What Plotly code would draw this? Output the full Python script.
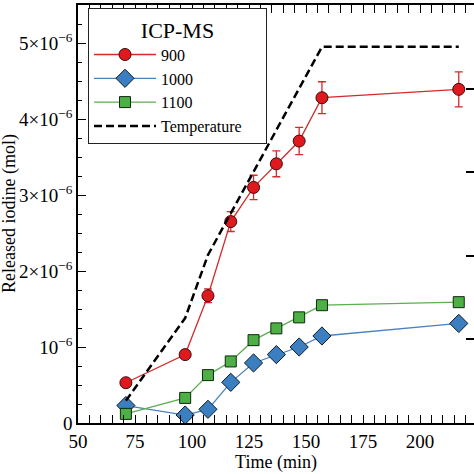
import plotly.graph_objects as go

# ---- data ----
times = [71, 97, 107, 117, 127, 137, 147, 157, 217]
iodine_900 = [0.53e-6, 0.90e-6, 1.675e-6, 2.65e-6, 3.10e-6, 3.41e-6, 3.71e-6, 4.28e-6, 4.39e-6]
err_900 = [0.02e-6, 0.03e-6, 0.09e-6, 0.13e-6, 0.16e-6, 0.17e-6, 0.18e-6, 0.21e-6, 0.23e-6]
iodine_1000 = [0.23e-6, 0.105e-6, 0.18e-6, 0.535e-6, 0.79e-6, 0.90e-6, 1.00e-6, 1.145e-6, 1.31e-6]
iodine_1100 = [0.12e-6, 0.33e-6, 0.63e-6, 0.81e-6, 1.09e-6, 1.245e-6, 1.39e-6, 1.55e-6, 1.59e-6]
temp_times = [71, 97, 107, 157, 217]
temperature = [53, 251, 402, 900, 900]

x_ticks = [50, 75, 100, 125, 150, 175, 200]
y_tickvals = [0, 1e-6, 2e-6, 3e-6, 4e-6, 5e-6]
y_ticktext = ["0", "10<sup>−6</sup>", "2×10<sup>−6</sup>", "3×10<sup>−6</sup>",
              "4×10<sup>−6</sup>", "5×10<sup>−6</sup>"]
y2_tickvals = [200, 400, 600, 800]

FONT = "Liberation Serif"
PAD = "\u2003\u2003\u00a0"

fig = go.Figure()
fig.add_trace(go.Scatter(
    x=times, y=iodine_900, name="900", mode="lines+markers",
    line=dict(color="#D42A2A", width=1.3),
    marker=dict(symbol="circle", size=12, color="#E0191E", line=dict(color="#3a0a0a", width=1)),
    error_y=dict(type="data", array=err_900, color="#D42A2A", thickness=1.3, width=4),
))
fig.add_trace(go.Scatter(
    x=times, y=iodine_1000, name="1000", mode="lines+markers",
    line=dict(color="#4A82BE", width=1.3),
    marker=dict(symbol="diamond", size=14, color="#3C7FC0", line=dict(color="#0c1a2a", width=1)),
))
fig.add_trace(go.Scatter(
    x=times, y=iodine_1100, name="1100", mode="lines+markers",
    line=dict(color="#5EAE52", width=1.3),
    marker=dict(symbol="square", size=11, color="#4DAF45", line=dict(color="#0e2a0c", width=1)),
))
fig.add_trace(go.Scatter(
    x=temp_times, y=temperature, name="Temperature", mode="lines", yaxis="y2",
    line=dict(color="black", width=2.5, dash="8px,4px"),
))

fig.update_layout(
    width=474, height=474,
    margin=dict(l=78, r=0, t=5, b=51),
    paper_bgcolor="white", plot_bgcolor="white",
    font=dict(family=FONT, size=18, color="black"),
    showlegend=True,
    legend=dict(
        x=(88 - 78) / 396, y=1 - (8 - 5) / 418, xanchor="left", yanchor="top",
        bordercolor="#222", borderwidth=1, bgcolor="white",
        font=dict(family=FONT, size=16),
        title=dict(text=PAD + "ICP-MS" + PAD, side="top center",
                   font=dict(family=FONT, size=22)),
        tracegroupgap=0, itemwidth=62,
    ),
    xaxis=dict(
        range=[50, 50 + 396 / 57 * 25], tickvals=x_ticks,
        ticks="inside", ticklen=8, tickwidth=1.3, tickcolor="black",
        showline=True, linecolor="black", linewidth=1.5, mirror="allticks",
        showgrid=False, zeroline=False,
        minor=dict(dtick=5, ticks="inside", ticklen=4, tickcolor="black", tickwidth=1),
        title=dict(text="Time (min)", font=dict(family=FONT, size=18), standoff=5),
        tickfont=dict(family=FONT, size=19),
    ),
    yaxis=dict(
        range=[0, 5.5e-6], tickvals=y_tickvals, ticktext=y_ticktext,
        ticks="inside", ticklen=8, tickwidth=1.3, tickcolor="black",
        showline=True, linecolor="black", linewidth=1.5, mirror=False,
        showgrid=False, zeroline=False,
        minor=dict(dtick=0.25e-6, ticks="inside", ticklen=4, tickcolor="black", tickwidth=1),
        tickfont=dict(family=FONT, size=19),
    ),
    yaxis2=dict(
        overlaying="y", side="right", range=[0, 1000], tickvals=y2_tickvals,
        ticks="inside", ticklen=8, tickwidth=1.5, tickcolor="black",
        showticklabels=False, showline=False, showgrid=False, zeroline=False,
    ),
    annotations=[dict(
        text="Released iodine (mol)", textangle=-90, xref="paper", yref="paper",
        x=(9 - 78) / 396, y=0.5, xanchor="center", yanchor="middle",
        showarrow=False, font=dict(family=FONT, size=18),
    )],
)

fig.write_html("out.html")
